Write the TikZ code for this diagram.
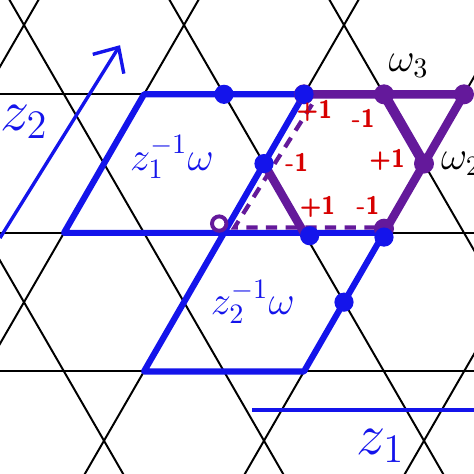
\documentclass[tikz,border=0pt]{standalone}
\usepackage{tikz}
\usetikzlibrary{arrows.meta}

\definecolor{azul}{RGB}{20,20,235}
\definecolor{morado}{RGB}{100,25,155}
\definecolor{rojo}{RGB}{215,0,0}

\begin{document}
\begin{tikzpicture}[
    reticula/.style={black, line width=0.7pt},
    azulgr/.style={azul, line width=2.2pt, line join=round, line cap=round},
    azulfino/.style={azul, line width=1.2pt},
    moradogr/.style={morado, line width=3pt, line join=round, line cap=round},
    moradotr/.style={morado, line width=1.5pt, dash pattern=on 4pt off 3pt},
    signo/.style={text=rojo, font=\sffamily\bfseries\small},
    etiq/.style={text=azul, font=\Large},
    etiqgr/.style={text=azul, font=\huge}
]
    % Área fija de la figura
    \useasboundingbox (-4.3,-3.88) rectangle (1.625,2.045);

    % Red kagome
    \begin{scope}
    \clip (-4.3,-3.88) rectangle (1.625,2.045);
    \foreach \y in {0.866,-0.866,-2.598}
        \draw[reticula] (-4.5,\y) -- (2,\y);
    \foreach \x in {-5,-3,-1,1,3}
        \draw[reticula] (\x-2.5,-4.33) -- (\x+1.5,2.598);
    \foreach \x in {-5,-3,-1,1}
        \draw[reticula] (\x-1.5,2.598) -- (\x+2.5,-4.33);
    \end{scope}

    % Vértices del hexágono y de los paralelogramos
    \coordinate (h1) at (-0.5,0.866);
    \coordinate (h2) at (0.5,0.866);
    \coordinate (h3) at (1,0);
    \coordinate (h4) at (0.5,-0.866);
    \coordinate (h5) at (-0.5,-0.866);
    \coordinate (h6) at (-1,0);
    \coordinate (t3) at (1.5,0.866);
    \coordinate (a1) at (-2.5,0.866);
    \coordinate (a3) at (-1.5,-0.866);
    \coordinate (a4) at (-3.5,-0.866);
    \coordinate (b3) at (-0.5,-2.598);
    \coordinate (b4) at (-2.5,-2.598);
    \coordinate (m1) at (-1.5,0.866);
    \coordinate (m2) at (0,-1.732);

    % Vectores z_1 y z_2
    \coordinate (z2i) at (-4.3,-0.93);
    \coordinate (z2f) at (-2.8,1.48);
    \coordinate (z1i) at (-1.15,-3.08);
    \coordinate (z1f) at (1.7,-3.08);
    \draw[azulfino, -{Straight Barb[length=7pt,width=13pt]}] (z2i) -- (z2f);
    \draw[azulfino] (z1i) -- (z1f);

    % Paralelogramos
    \draw[azulgr] (a1) -- (h1) -- (a3) -- (a4) -- cycle;
    \draw[azulgr] (a3) -- (h4) -- (b3) -- (b4) -- cycle;

    % Camino morado
    \draw[moradogr] (h1) -- (t3) -- (h3) -- (h4);
    \draw[moradogr, line width=3.6pt] (h2) -- (h3);
    \draw[moradogr] (h6) -- (h5);
    \coordinate (d1) at (-0.40,0.74);
    \coordinate (d2) at (-1.37,-0.80);
    \coordinate (d3) at (0.40,-0.80);
    \draw[moradotr] (d1) -- (d2) -- (d3);
    \draw[morado, line width=1.4pt] (-1.56,-0.75) circle (0.09);

    % Puntos
    \foreach \p in {h1,h2,h3,t3}
        \fill[morado] (\p) circle (0.125);
    \fill[morado] ([yshift=1.5pt]h4) circle (0.125);
    \foreach \p in {h1,h6,m1,m2}
        \fill[azul] (\p) circle (0.12);
    \fill[azul] ([shift={(2pt,-1pt)}]h5) circle (0.12);
    \fill[azul] ([yshift=-1.5pt]h4) circle (0.12);

    % Signos
    \node[signo] (s1) at (-0.37,0.66) {+1};
    \node[signo] (s2) at (0.24,0.57) {-1};
    \node[signo] (s3) at (-0.59,0.02) {-1};
    \node[signo] (s4) at (0.54,0.045) {+1};
    \node[signo] (s5) at (-0.33,-0.54) {+1};
    \node[signo] (s6) at (0.30,-0.52) {-1};

    % Etiquetas
    \node[etiq] (lw1) at (-2.15,0.08) {$z_1^{-1}\omega$};
    \node[etiq] (lw2) at (-1.14,-1.73) {$z_2^{-1}\omega$};
    \node[etiqgr] (lz2) at (-4.0,0.52) {$z_2$};
    \node[etiqgr] (lz1) at (0.46,-3.53) {$z_1$};
    \node[font=\Large] (w3) at (0.81,1.22) {$\omega_3$};
    \node[font=\Large, anchor=west] (w2) at (1.09,0.0) {$\omega_2$};
\end{tikzpicture}
\end{document}
